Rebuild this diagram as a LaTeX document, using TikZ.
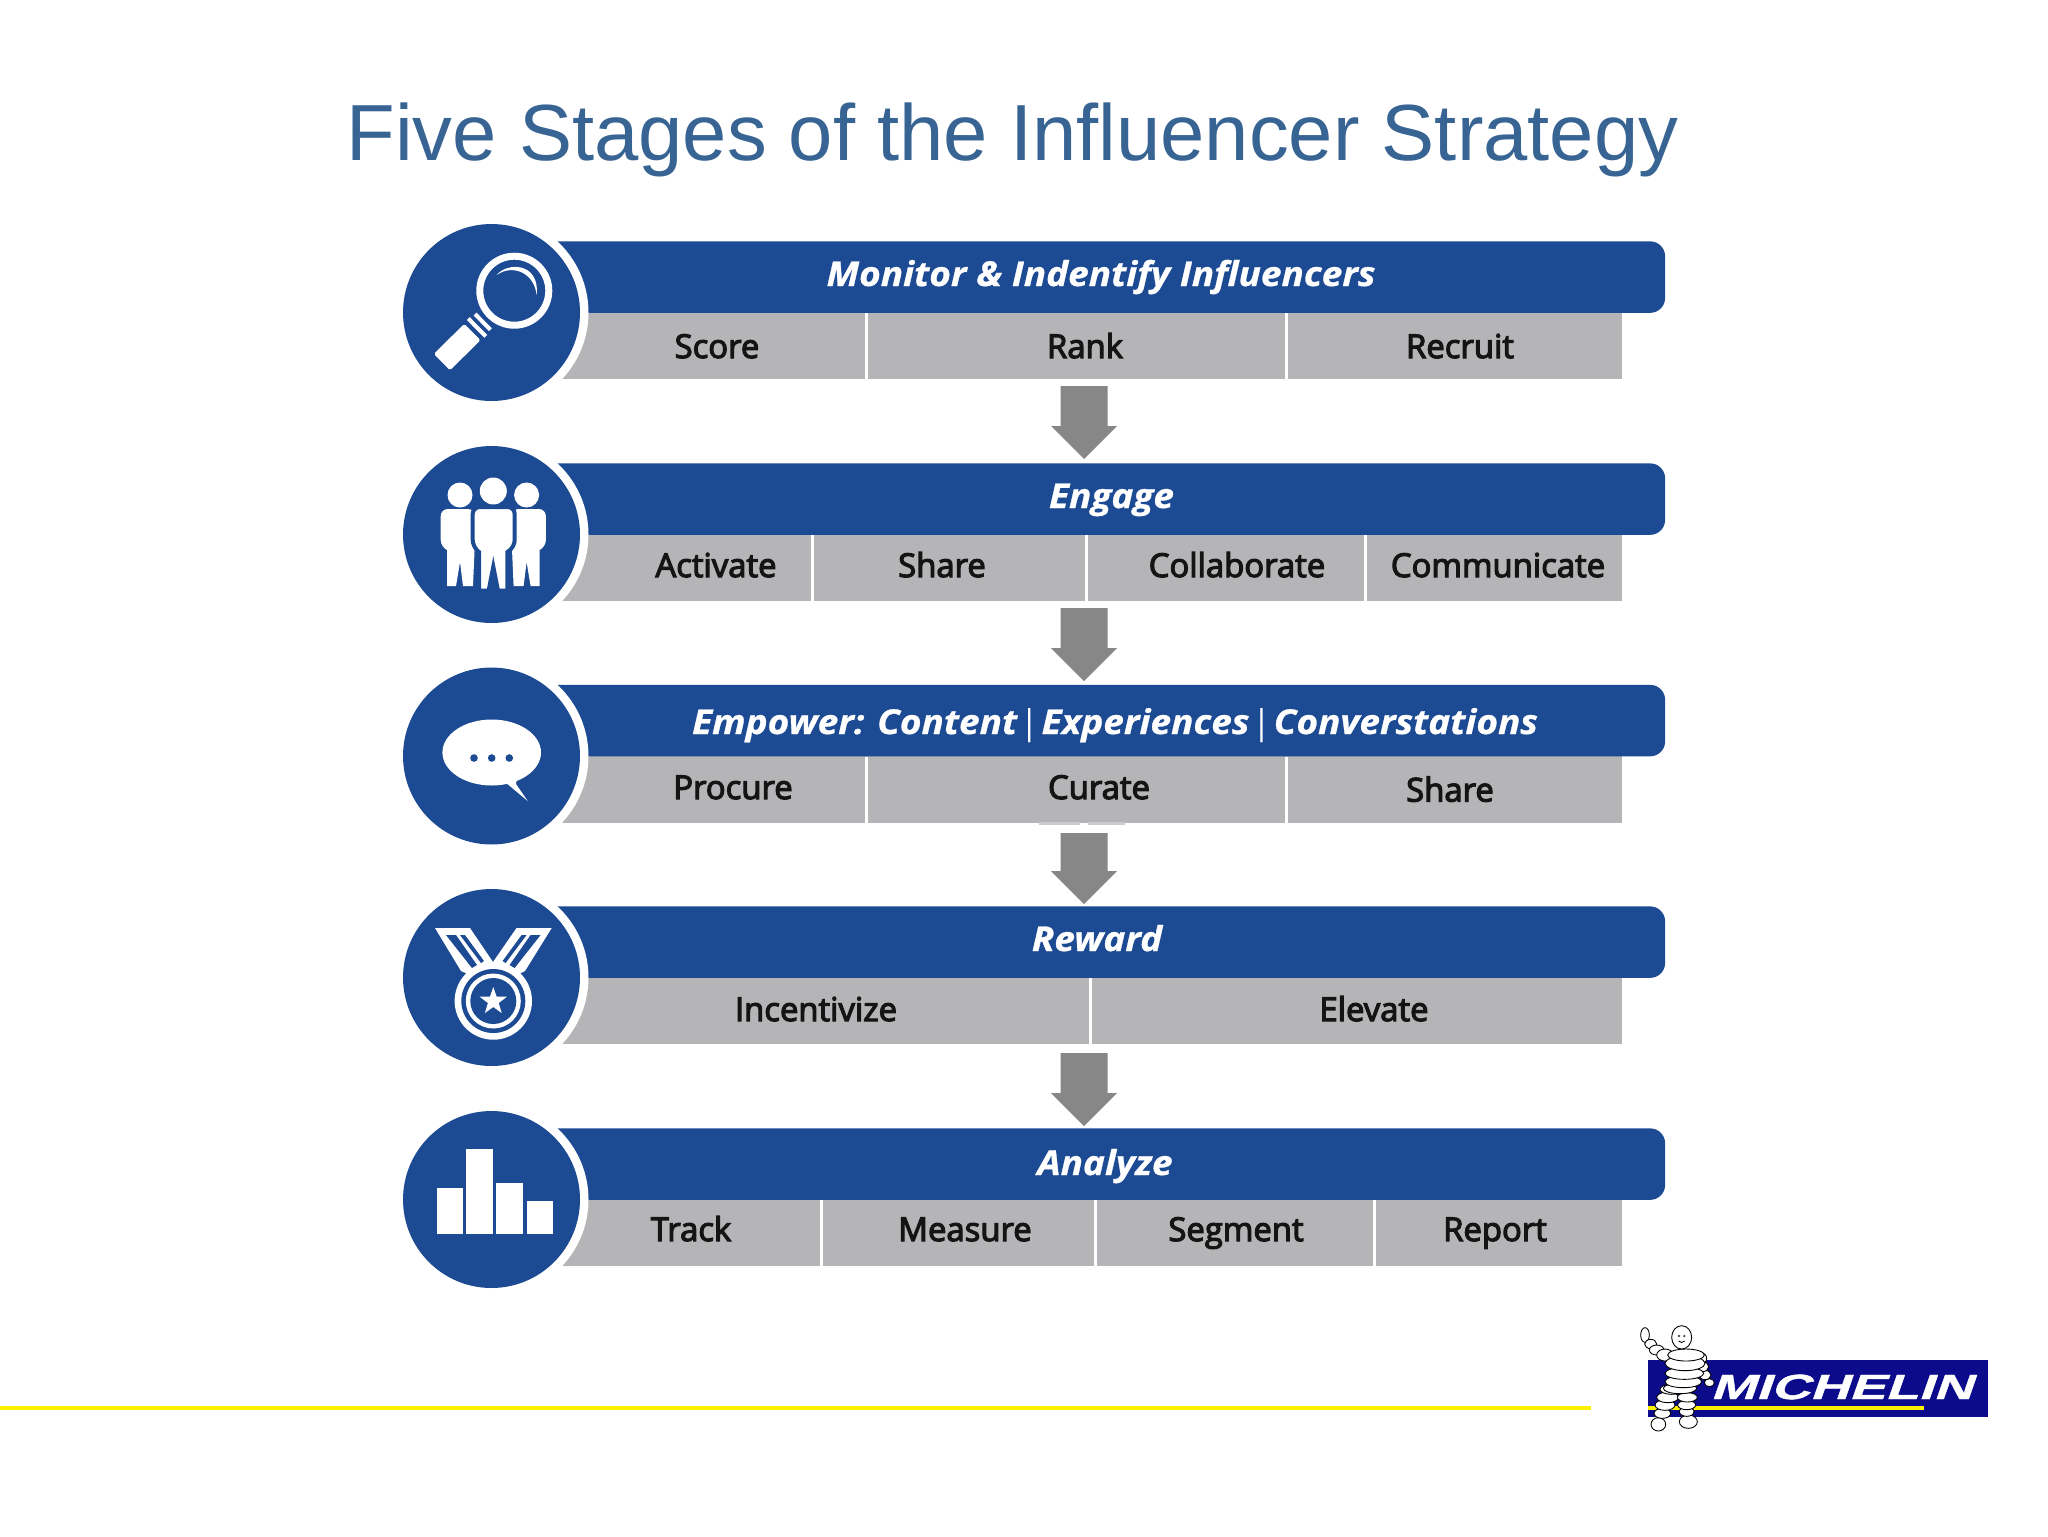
\documentclass[tikz,border=0pt]{standalone}
\usepackage{fontspec}
\setmainfont{Open Sans}
\newfontfamily\titlefont{Liberation Sans}
\newfontfamily\cellfont[FakeBold=3.5]{Open Sans}
\newfontfamily\headfont[BoldItalicFont={Open Sans Bold Italic},BoldItalicFeatures={FakeStretch=1.08,FakeBold=0.8}]{Open Sans}
\newfontfamily\logofont[FakeSlant=0.35,FakeStretch=1.55,FakeBold=1.2]{Liberation Sans Bold}
\definecolor{barblue}{HTML}{1C4A93}
\definecolor{cellgray}{HTML}{B5B4B6}
\definecolor{arrowgray}{HTML}{878787}
\definecolor{titleblue}{HTML}{386494}
\definecolor{logoblue}{HTML}{0B0B8C}
\definecolor{ruleyellow}{HTML}{FFF000}
\tikzset{
  x=0.02cm,y=-0.02cm,
  head/.style={anchor=base,inner sep=0,text=white,font=\headfont\fontsize{19.5}{20}\selectfont\bfseries\itshape},
  cell/.style={anchor=base,inner sep=0,text=black!92,font=\cellfont\fontsize{18.7}{20}\selectfont},
  divider/.style={white,line width=1.7pt},
  icon/.style={fill=white,draw=none},
  stripe/.style={fill=barblue,draw=none},
  tyre/.style={fill=white,draw=black,line width=0.5pt},
}
\newcommand\headbar{\hspace{-.2em} {\mdseries\upshape|} \hspace{-.2em}}
% #1 = top of the bar, #2 = name of the row
\newcommand\rowbase[2]{%
  \begin{scope}[shift={(0,#1)}]
    \fill[cellgray] (530,71) rectangle (1622,138);
    \node[fill=barblue,rounded corners=0.3cm,inner sep=0,minimum width=22.7cm,minimum height=1.43cm,
      anchor=north west] (#2bar) at (530,0) {};
    \fill[white] (491.5,71.5) circle[radius=97];
    \node[circle,fill=barblue,inner sep=0,minimum size=3.54cm] (#2disc) at (491.5,71.5) {};
  \end{scope}}
\newcommand\blockarrow[3]{% centre x, top, tip
  \fill[arrowgray] (#1-23.5,#2) -- (#1+23.5,#2) -- (#1+23.5,#3-33) -- (#1+33,#3-33)
    -- (#1,#3) -- (#1-33,#3-33) -- (#1-23.5,#3-33) -- cycle;}
\begin{document}
\begin{tikzpicture}
\useasboundingbox (0,0) rectangle (2048,1536);
\fill[white] (0,0) rectangle (2048,1536);

\node[inner sep=0,text=titleblue,font=\titlefont\fontsize{45.3}{50}\selectfont,anchor=base] (title) at (1012.5,160) {Five Stages of the Influencer Strategy};

\rowbase{241}{monitor}
\rowbase{463}{engage}
\rowbase{684.5}{empower}
\rowbase{906}{reward}
\rowbase{1128}{analyze}

% dividers
\foreach \x in {866.5,1286} \draw[divider] (\x,313) -- (\x,379);
\foreach \x in {812,1086,1365} \draw[divider] (\x,535) -- (\x,601);
\foreach \x in {866.5,1286} \draw[divider] (\x,756.5) -- (\x,822.5);
\draw[divider] (1090,978) -- (1090,1044);
\foreach \x in {821,1095,1374} \draw[divider] (\x,1200) -- (\x,1266);

% arrows
\blockarrow{1084}{386}{459}
\blockarrow{1084}{608}{681}
\fill[cellgray!70] (1039,822) rectangle (1080,825);
\fill[cellgray!70] (1088,822) rectangle (1125,825);
\blockarrow{1084}{833}{904}
\blockarrow{1084}{1053}{1126}

% texts
\node[head] (h1) at (1101,286) {Monitor \& Indentify Influencers};
\node[cell] (c11) at (717,358) {Score};
\node[cell] (c12) at (1085,358) {Rank};
\node[cell] (c13) at (1460,358) {Recruit};

\node[head] (h2) at (1111.5,508) {Engage};
\node[cell] (c21) at (716,577) {Activate};
\node[cell] (c22) at (942,577) {Share};
\node[cell] (c23) at (1237,577) {Collaborate};
\node[cell] (c24) at (1498,577) {Communicate};

\node[head] (h3) at (1115,734) {Empower: Content\headbar Experiences\headbar Converstations};
\node[cell] (c31) at (733,799) {Procure};
\node[cell] (c32) at (1099,799) {Curate};
\node[cell] (c33) at (1450,801.5) {Share};

\node[head] (h4) at (1097,951) {Reward};
\node[cell] (c41) at (816,1021) {Incentivize};
\node[cell] (c42) at (1374,1021) {Elevate};

\node[head] (h5) at (1105,1175) {Analyze};
\node[cell] (c51) at (691,1241) {Track};
\node[cell] (c52) at (965,1241) {Measure};
\node[cell] (c53) at (1236,1241) {Segment};
\node[cell] (c54) at (1495,1241) {Report};

% magnifier
\draw[white,line width=3.98pt] (514.3,290.7) circle[radius=34.5];
\fill[white,rounded corners=1pt] (464.3,323.8) -- (480.5,340.2) -- (450,370.3) -- (433.9,353.9) -- cycle;
\draw[white,line width=2.3pt] (468.25,318.55) -- (485.75,336.35);
\draw[white,line width=2.3pt] (475,314.05) -- (490.4,329.65);
\fill[white] (496.7,275) .. controls (507,262) and (540,262) .. (536.7,295) .. controls (534,272) and (512,264) .. cycle;

% people
\fill[icon] (460,495) circle[radius=12.5];
\fill[icon] (526.6,495) circle[radius=12.5];
\fill[icon] (493.3,491) circle[radius=13.5];
\path[icon] (447,586) -- (447,550) {[rounded corners=4pt] -- (440.7,547) -- (440.7,509) -- (475,509) -- (475,540)} -- (473,586) -- (463,586) -- (460,562) -- (456,586) -- cycle;
\path[icon] (539.6,586) -- (539.6,550) {[rounded corners=4pt] -- (545.9,547) -- (545.9,509) -- (511.6,509) -- (511.6,540)} -- (513.6,586) -- (523.6,586) -- (526.6,562) -- (530.6,586) -- cycle;
\path[icon,draw=barblue,line width=2.3pt] (479,590.7) -- (479,552) {[rounded corners=4pt] -- (472.7,547) -- (472.7,507) -- (514.7,507) -- (514.7,547)} -- (507.3,552) -- (507.3,590.7) -- (498,590.7) -- (493.3,566.7) -- (488.6,590.7) -- cycle;

% speech bubble
\fill[white] (491.7,752.5) ellipse[x radius=49.3,y radius=33];
\fill[white] (505,782) -- (517.3,777) -- (516,784) -- (527.7,801) -- cycle;
\foreach \x in {474,491.7,509.3} \fill[barblue] (\x,758) circle[radius=3.8];

% medal
\fill[icon] (435,928) -- (470,928) -- (493,962) -- (516.5,928) -- (551.7,928) -- (525,971) -- (515,976) -- (472,976) -- (461,971) -- cycle;
\fill[stripe] (446,935) -- (456,935) -- (477,965) -- (472,968) -- cycle;
\fill[stripe] (460,935) -- (465,935) -- (484,961) -- (481,963) -- cycle;
\fill[stripe] (540.6,935) -- (530.6,935) -- (509.6,965) -- (514.6,968) -- cycle;
\fill[stripe] (526.6,935) -- (521.6,935) -- (502.6,961) -- (505.6,963) -- cycle;
\fill[white] (493.3,1001) circle[radius=38.7];
\fill[barblue] (493.3,1001) circle[radius=32];
\fill[white] (493.3,1001) circle[radius=27.5];
\fill[barblue] (493.3,1001) circle[radius=23];
\fill[white] (493.3,987) -- (496.6,996.5) -- (507,996.7) -- (498.7,1003) -- (501.7,1013) -- (493.3,1007) -- (484.9,1013) -- (487.9,1003) -- (479.6,996.7) -- (490,996.5) -- cycle;

% bars
\fill[white] (436.7,1188) rectangle (463.3,1234);
\fill[white] (466,1149) rectangle (492.7,1234);
\fill[white] (496,1183) rectangle (523.3,1234);
\fill[white] (526.7,1201) rectangle (553.3,1234);

% rule
\draw[ruleyellow,line width=2.2pt] (0,1408) -- (1591,1408);

% logo
\fill[logoblue] (1648,1360) rectangle (1988,1417);
\fill[ruleyellow] (1648,1406) rectangle (1924,1410);
\node[inner sep=0,anchor=base west,text=white,font=\logofont\fontsize{19.9}{20}\selectfont] (logotext) at (1710,1399) {MICHELIN};
\begin{scope}[shift={(1630,1320)},x=0.00667cm,y=-0.00667cm]
  \foreach \a/\b/\c/\d in {85/313/22/20,175/305/27/20,
     97/280/25/15,105/255/30/16,113/232/33/16,
     170/275/22/14,170/255/27/14,172/232/30/14,
     125/208/35/15,
     238/188/15/12,225/165/18/14,218/140/18/15,210/115/20/18,
     45/45/13/22,62/72/18/14,80/90/22/15,105/105/25/18,
     150/205/50/16,160/185/55/18,163/160/58/18,165/130/60/22,168/105/55/18}
    \draw[tyre] (\a,\b) ellipse[x radius=\c,y radius=\d];
  \draw[tyre] (155,52) ellipse[x radius=30,y radius=35];
  \fill[black!70] (147,48) circle[radius=4];
  \fill[black!70] (163,48) circle[radius=4];
  \draw[black,line width=0.5pt] (146,63) .. controls (152,69) and (158,69) .. (164,63);
\end{scope}
\end{tikzpicture}
\end{document}
